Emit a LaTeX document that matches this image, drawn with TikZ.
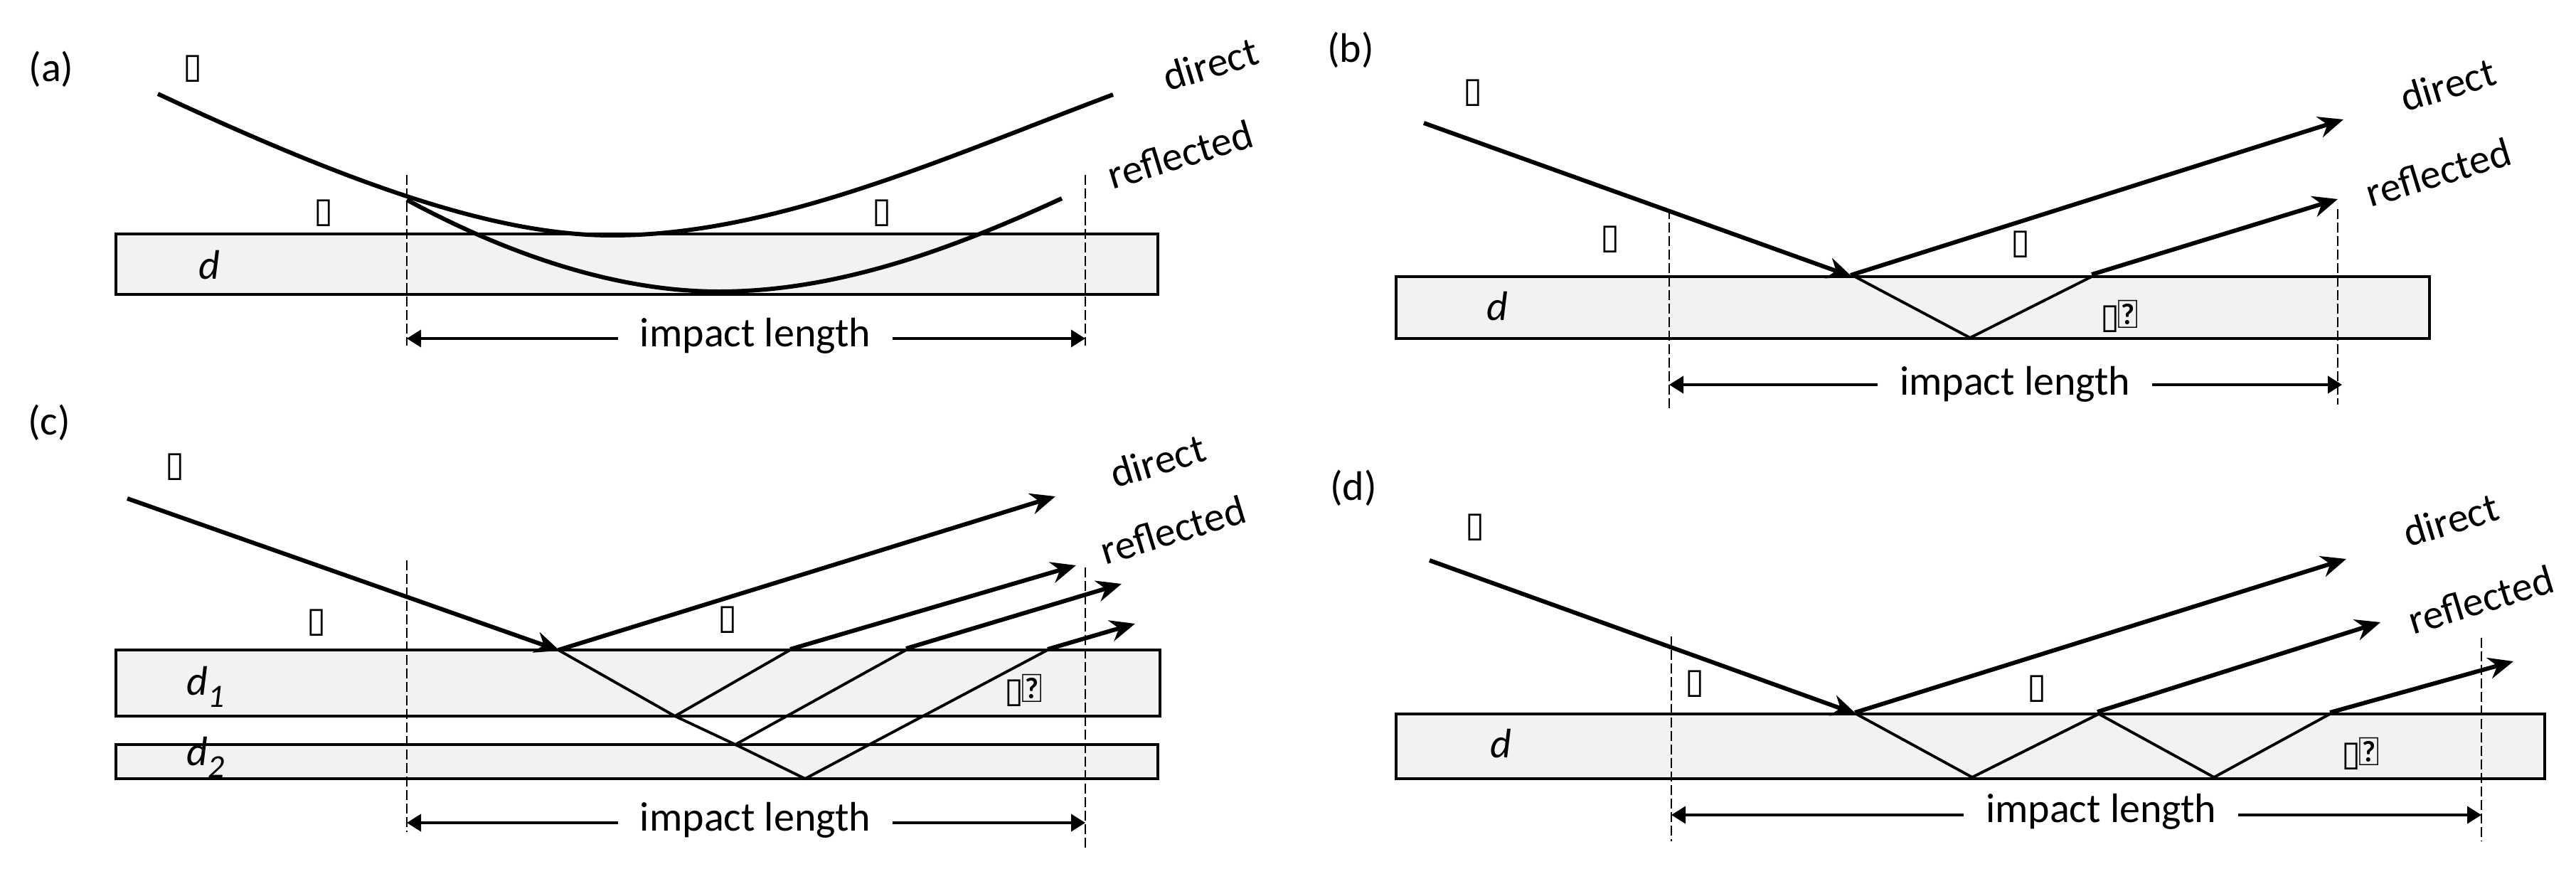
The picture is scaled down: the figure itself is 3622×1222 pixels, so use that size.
\documentclass[tikz,border=0pt]{standalone}
\usepackage{fontspec}
\setmainfont{Carlito}
\newfontfamily\boxfont{DejaVu Sans}
\usetikzlibrary{arrows.meta}
\tikzset{
  txt/.style={font=\fontsize{16.5}{20}\selectfont,inner sep=0pt},
  tofu/.style={font=\boxfont\fontsize{14}{16}\selectfont,inner sep=0pt},
  slab/.style={fill=black!5,draw=black,line width=1pt},
  ray/.style={line width=1.7pt,-{Stealth[length=7mm/2,width=3mm]}},
  beam/.style={line width=1.7pt},
  bounce/.style={line width=1.1pt},
  limit/.style={line width=0.6pt,dash pattern=on 0.14cm off 0.05cm},
  span/.style={line width=1.1pt,-{Triangle[length=2mm,width=2.4mm]}}
}
\newcommand{\sublow}[1]{\raisebox{-0.3em}{\fontsize{13}{15}\selectfont #1}}

\begin{document}
\begin{tikzpicture}[x=0.01cm,y=-0.01cm]
    \useasboundingbox (0,0) rectangle (3622,1222);

    % slabs
    \foreach \xa/\ya/\xb/\yb in {163/329/1628/414, 1963/389/3416/476, 163/914/1631/1007,
      163/1047/1628/1095, 1963/1004/3578/1095}
      \filldraw[slab] (\xa,\ya) rectangle (\xb,\yb);

    % panel labels
    \foreach \n/\x/\y in {a/72/97, b/1899/70, c/69/594, d/1903/686}
      \node[txt] (panel\n) at (\x,\y) {(\n)};

    % (a) curved paths
    \draw[beam] (222,132) .. controls (500,262) and (700,331) .. (860,331)
      .. controls (1090,331) and (1330,221) .. (1565,133);
    \draw[beam] (572,281) .. controls (690,345) and (850,410) .. (1011,410)
      .. controls (1190,410) and (1360,340) .. (1493,279);

    % (b)
    \draw[ray] (2002,173) -- (2604,389);
    \draw[ray] (2602,387) -- (3295,168);
    \draw[ray] (2941,386) -- (3287,280);
    \draw[bounce] (2608,389) -- (2770,475) -- (2941,389);

    % (c)
    \draw[ray] (179,701) -- (787,915);
    \draw[ray] (785,914) -- (1484,698);
    \draw[ray] (1111,913) -- (1513,795);
    \draw[ray] (1274,912) -- (1577,821);
    \draw[ray] (1473,913) -- (1596,877);
    \draw[bounce] (785,914) -- (949,1007) -- (1034,1047) -- (1132,1095) -- (1473,914);
    \draw[bounce] (949,1007) -- (1111,914);
    \draw[bounce] (1034,1047) -- (1274,914);

    % (d)
    \draw[ray] (2010,788) -- (2610,1004);
    \draw[ray] (2608,1002) -- (3299,786);
    \draw[ray] (2949,1001) -- (3347,875);
    \draw[ray] (3276,1002) -- (3534,930);
    \draw[bounce] (2610,1004) -- (2773,1093) -- (2951,1004) -- (3113,1093) -- (3276,1004);

    % dashed limits
    \foreach \x/\ya/\yb in {572/246/486, 1526/246/486, 2347/294/579, 3287/294/569,
      572/788/1170, 1526/798/1194, 2350/895/1183, 3489/897/1183}
      \draw[limit] (\x,\ya) -- (\x,\yb);

    % impact length
    \foreach \n/\x/\y/\xl/\xr/\ya in {a/1062/472/572/1526/476, b/2833/540/2347/3293/541,
      c/1062/1153/572/1526/1157, d/2954/1141/2350/3489/1146} {
      \node[txt,inner xsep=0.3cm] (impact\n) at (\x,\y) {impact length};
      \coordinate (left\n) at (\xl,\ya);
      \coordinate (right\n) at (\xr,\ya);
      \draw[span] (impact\n.west |- left\n) -- (left\n);
      \draw[span] (impact\n.east |- right\n) -- (right\n);
    }

    % ray names
    \foreach \n/\x/\y in {a/1702/90, b/3442/119, c/1628/648, d/3446/731}
      \node[txt,rotate=17,font=\fontsize{16.5}{20}\selectfont] (direct\n) at (\x,\y) {direct};
    \foreach \n/\x/\y in {a/1659/217, b/3428/242, c/1649/745, d/3488/843}
      \node[txt,rotate=17] (reflected\n) at (\x,\y) {reflected};

    % layer thickness
    \foreach \n/\x/\y/\t in {a/294/373/d, b/2105/431/d, c/289/966/d\sublow{1},
      e/289/1065/d\sublow{2}, f/2110/1046/d}
      \node[txt,font=\fontsize{16.5}{20}\selectfont\itshape] (thick\n) at (\x,\y) {\t};

    % angles
    \foreach \n/\x/\y in {a/271/97, b/455/300, c/1240/300, d/2071/131, e/2264/337, f/2841/344,
      g/246/657, h/445/876, i/1023/872, j/2074/742, k/2383/962, l/2864/969}
      \node[tofu] (angle\n) at (\x,\y) {▯};
    \foreach \n/\x/\y in {m/2980/445, n/1439/971, o/3319/1060}
      \node[tofu] (angle\n) at (\x,\y) {▯\hspace{-0.05em}{\fontsize{16.5}{20}\selectfont\itshape\rmfamily ′}};
\end{tikzpicture}
\end{document}
